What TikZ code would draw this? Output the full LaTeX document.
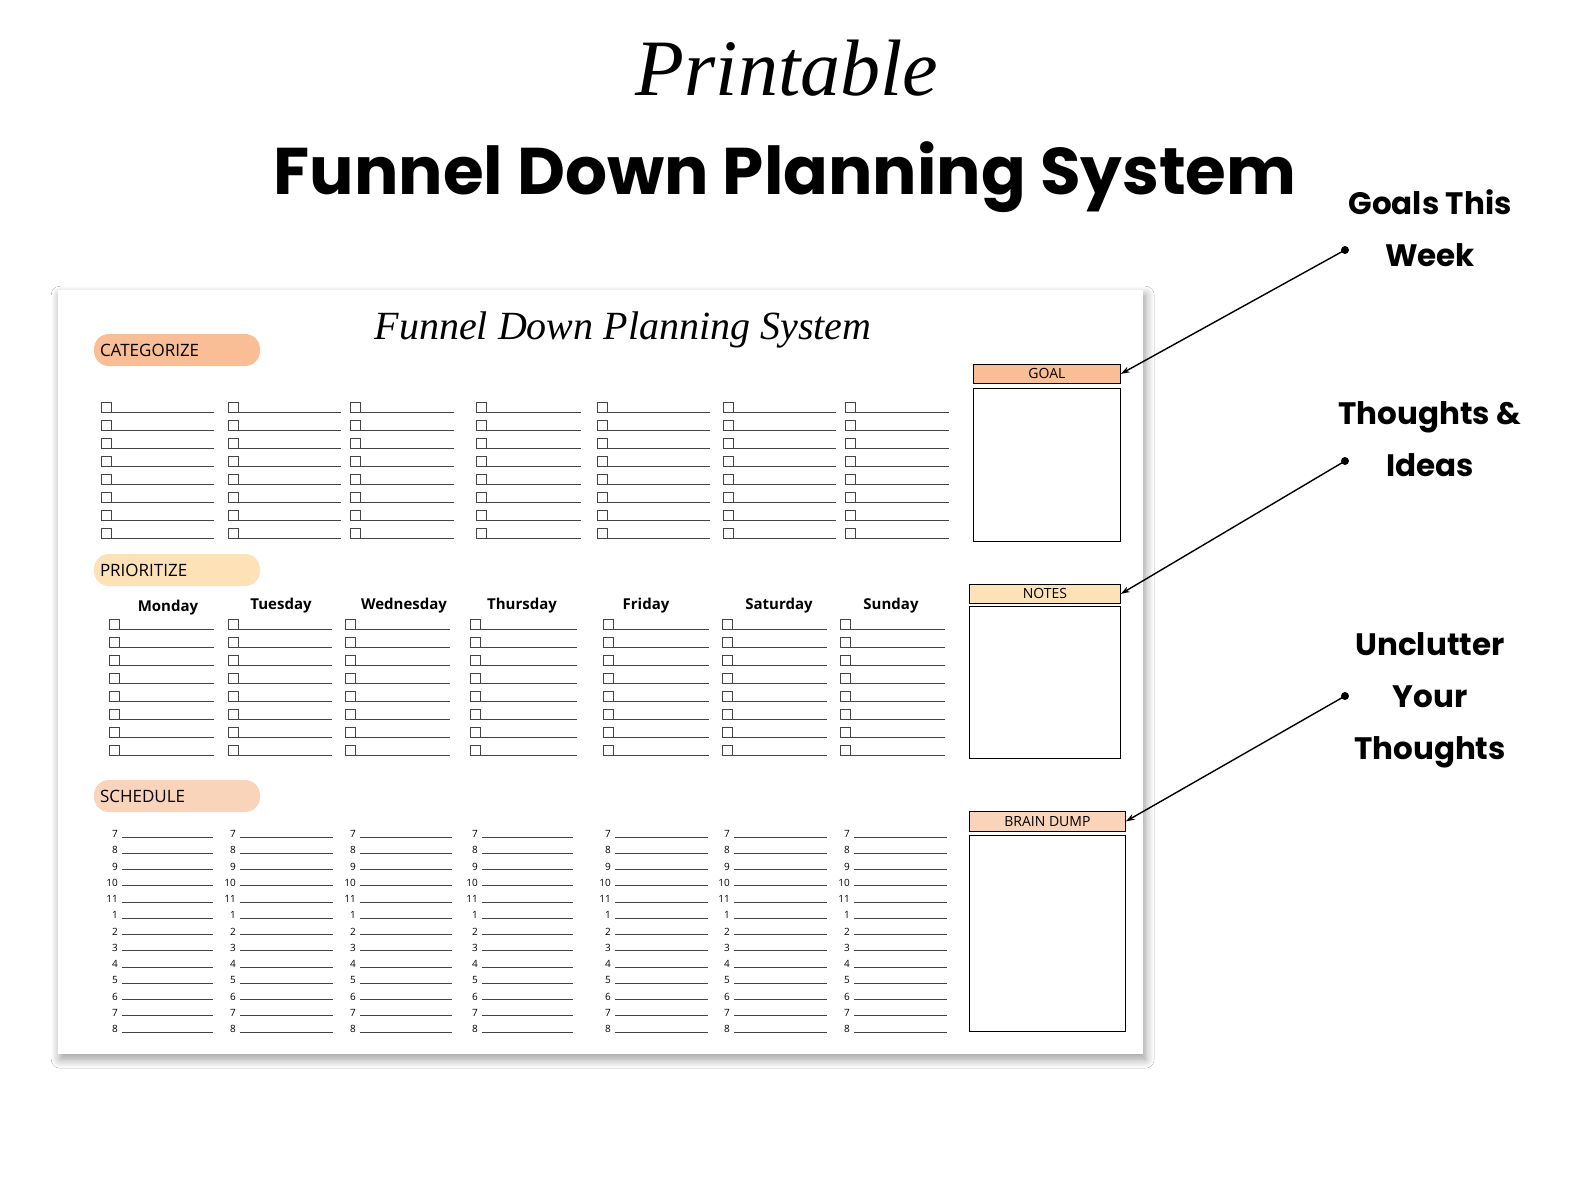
\documentclass[tikz,border=0pt]{standalone}
\usepackage{fontspec}
\setmainfont{Open Sans}
\newfontfamily\pop{Poppins}
\newfontfamily\scr{Liberation Serif}
\usetikzlibrary{shadows.blur,arrows.meta}
\definecolor{catc}{HTML}{F9BE95}
\definecolor{pric}{HTML}{FDE2B8}
\definecolor{schc}{HTML}{FAD3BB}
\definecolor{lg}{HTML}{444444}
\tikzset{
 pill/.style={rounded corners=15pt,minimum width=166pt,minimum height=32pt,text width=154pt,align=left,font=\fontsize{17}{20}\selectfont,inner sep=0},
 hdr/.style={draw=black,line width=0.8pt,inner sep=0,font=\fontsize{14}{16}\selectfont},
 cb/.style={draw=lg,line width=1pt,minimum size=10pt,inner sep=0},
 ln/.style={draw=lg,line width=1pt},
 day/.style={font=\bfseries\fontsize{15}{17}\selectfont},
 num/.style={font=\fontsize{10}{12}\selectfont,anchor=east,inner sep=0},
 ann/.style={font=\pop\bfseries\fontsize{31}{52}\selectfont,align=center},
 arr/.style={-{Stealth[length=9pt,width=6pt]},line width=1.4pt}
}
\begin{document}
\begin{tikzpicture}[x=1pt,y=-1pt]
\useasboundingbox (0,0) rectangle (1588,1191);
\fill[white] (0,0) rectangle (1588,1191);
\node[font=\scr\itshape\fontsize{80}{80}\selectfont] (pr) at (787,68) {Printable};
\node[font=\pop\bfseries\fontsize{66}{66}\selectfont] (ti) at (785,177) {Funnel Down Planning System};
\node[fill=white,blur shadow={shadow blur steps=12,shadow xshift=2pt,shadow yshift=-5pt,shadow blur radius=9pt},minimum width=1085pt,minimum height=764pt,anchor=north west,inner sep=0] (sheet) at (58,290) {};
\node[font=\scr\itshape\fontsize{40}{40}\selectfont] (st) at (623,330) {Funnel Down Planning System};
\node[pill,fill=catc] (cat) at (177,350) {CATEGORIZE};
\node[pill,fill=pric] (pri) at (177,570) {PRIORITIZE};
\node[pill,fill=schc] (sch) at (177,796) {SCHEDULE};
% categorize
\foreach \x/\e [count=\c] in {101/213,228/340,350/453,476/580,597/709,723/835,845/948}{
 \foreach \r in {0,...,7}{
  \node[cb,anchor=west] (c\c-\r) at (\x,{407+18*\r}) {};
  \draw[ln] (c\c-\r.south east) -- ++(\e-\x-10,0);
 }}
% prioritize
\foreach \x/\e/\d/\dx [count=\c] in {109/213/Monday/168,228/331/Tuesday/281,345/449/Wednesday/404,470/576/Thursday/522,603/708/Friday/646,722/826/Saturday/779,840/944/Sunday/891}{
 \node[day] (d\c) at (\dx,{\c==1?608:606}) {\d};
 \foreach \r in {0,...,7}{
  \node[cb,anchor=west] (p\c-\r) at (\x,{624+18*\r}) {};
  \draw[ln] (p\c-\r.south east) -- ++(\e-\x-10,0);
 }}
% schedule
\foreach \x/\e [count=\c] in {118/213,236/333,356/452,478/573,611/708,730/827,850/947}{
 \foreach \n [count=\r from 0] in {7,8,9,10,11,1,2,3,4,5,6,7,8}{
  \node[num] (s\c-\r) at (\x,{834+16.25*\r}) {\n};
  \draw[ln] ([xshift=4pt,yshift=-3pt]s\c-\r.east) -- (\e,{837+16.25*\r});
 }}
% right boxes
\node[hdr,fill=catc,minimum width=147pt,minimum height=19pt,anchor=north west] (goal) at (973,364) {GOAL};
\draw[line width=0.8pt] (973,388) rectangle (1120,541);
\node[hdr,fill=pric,minimum width=151pt,minimum height=19pt,anchor=north west] (notes) at (969,584) {NOTES};
\draw[line width=0.8pt] (969,606) rectangle (1120,758);
\node[hdr,fill=schc,minimum width=156pt,minimum height=20pt,anchor=north west] (bd) at (969,811) {BRAIN DUMP};
\draw[line width=0.8pt] (969,835) rectangle (1125,1031);
% annotations
\node[ann] (a1) at (1430,228) {Goals This\\Week};
\node[ann] (a2) at (1430,439) {Thoughts \&\\Ideas};
\node[ann] (a3) at (1430,700) {Unclutter\\Your\\Thoughts};
\fill (1345,250) circle (4pt) coordinate (k1);
\fill (1345,461) circle (4pt) coordinate (k2);
\fill (1345,696) circle (4pt) coordinate (k3);
\draw[arr] (k1) -- (goal.east);
\draw[arr] (k2) -- (notes.east);
\draw[arr] (k3) -- (bd.east);
\end{tikzpicture}
\end{document}
